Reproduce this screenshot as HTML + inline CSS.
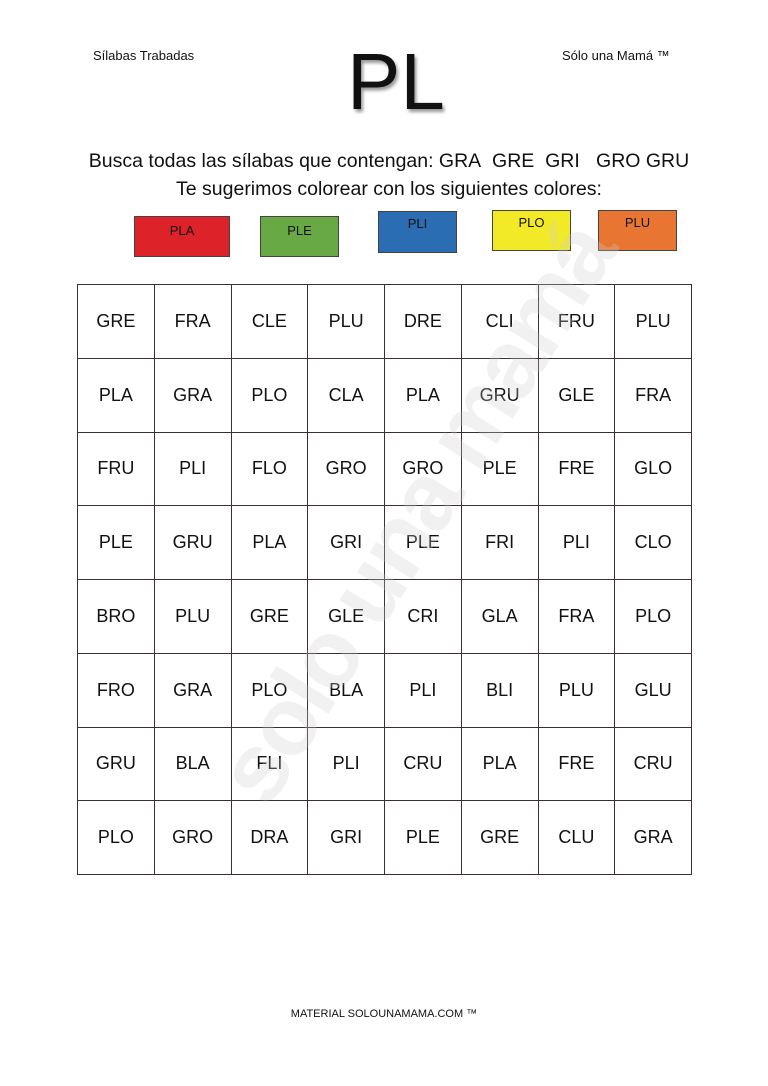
<!DOCTYPE html>
<html><head><meta charset="utf-8"><style>
body{margin:0;background:#fff;}
.p{position:relative;width:768px;height:1086px;overflow:hidden;font-family:"Liberation Sans",sans-serif;color:#111;}
.a{position:absolute;}
.box{position:absolute;border:1px solid #444;font-size:13px;text-align:center;box-sizing:border-box;padding-top:6px;}
table{position:absolute;left:77px;top:284px;border-collapse:collapse;table-layout:fixed;width:615px;height:591px;}
td{border:1.5px solid #3a3030;text-align:center;font-size:18px;padding:0;}
.wm{position:absolute;left:110px;top:500px;font-size:96px;font-weight:bold;color:rgba(205,205,205,0.28);transform:rotate(-58deg);transform-origin:center;white-space:nowrap;width:560px;text-align:center;font-family:"Liberation Sans",sans-serif;letter-spacing:-3px;}
</style></head><body><div class="p">
<div class="a" style="left:93px;top:48px;font-size:13px;">Sílabas Trabadas</div>
<div class="a" style="left:562px;top:48px;font-size:13px;">Sólo una Mamá ™</div>
<div class="a" style="left:347px;top:42px;font-size:80px;line-height:80px;text-shadow:2px 3px 3px #999;">PL</div>
<div class="a" style="left:0;width:778px;text-align:center;top:150px;font-size:19.5px;">Busca todas las sílabas que contengan: GRA&nbsp; GRE&nbsp; GRI&nbsp;&nbsp; GRO GRU</div>
<div class="a" style="left:0;width:778px;text-align:center;top:178px;font-size:19.5px;">Te sugerimos colorear con los siguientes colores:</div>
<div class="box" style="left:134px;top:216px;width:96px;height:41px;background:#dd2229;">PLA</div>
<div class="box" style="left:260px;top:216px;width:79px;height:41px;background:#68a845;">PLE</div>
<div class="box" style="left:378px;top:211px;width:79px;height:42px;background:#2a6db3;padding-top:4px;">PLI</div>
<div class="box" style="left:492px;top:210px;width:79px;height:41px;background:#f3ea27;padding-top:4px;">PLO</div>
<div class="box" style="left:598px;top:210px;width:79px;height:41px;background:#e87632;padding-top:4px;">PLU</div>
<table>
<tr><td>GRE</td><td>FRA</td><td>CLE</td><td>PLU</td><td>DRE</td><td>CLI</td><td>FRU</td><td>PLU</td></tr>
<tr><td>PLA</td><td>GRA</td><td>PLO</td><td>CLA</td><td>PLA</td><td>GRU</td><td>GLE</td><td>FRA</td></tr>
<tr><td>FRU</td><td>PLI</td><td>FLO</td><td>GRO</td><td>GRO</td><td>PLE</td><td>FRE</td><td>GLO</td></tr>
<tr><td>PLE</td><td>GRU</td><td>PLA</td><td>GRI</td><td>PLE</td><td>FRI</td><td>PLI</td><td>CLO</td></tr>
<tr><td>BRO</td><td>PLU</td><td>GRE</td><td>GLE</td><td>CRI</td><td>GLA</td><td>FRA</td><td>PLO</td></tr>
<tr><td>FRO</td><td>GRA</td><td>PLO</td><td>BLA</td><td>PLI</td><td>BLI</td><td>PLU</td><td>GLU</td></tr>
<tr><td>GRU</td><td>BLA</td><td>FLI</td><td>PLI</td><td>CRU</td><td>PLA</td><td>FRE</td><td>CRU</td></tr>
<tr><td>PLO</td><td>GRO</td><td>DRA</td><td>GRI</td><td>PLE</td><td>GRE</td><td>CLU</td><td>GRA</td></tr>
</table>
<div class="wm">solo una mamá</div>
<div class="a" style="left:0;width:768px;text-align:center;top:1008px;font-size:11px;">MATERIAL SOLOUNAMAMA.COM ™</div>
</div></body></html>
